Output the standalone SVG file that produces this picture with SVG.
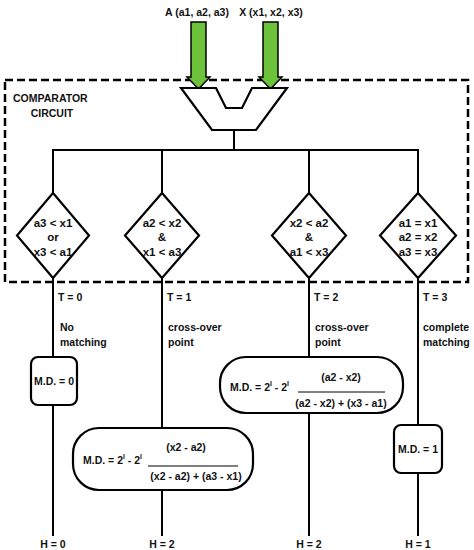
<svg xmlns="http://www.w3.org/2000/svg" width="474" height="550" viewBox="0 0 474 550">
<style>
text{font-family:"Liberation Sans",Arial,sans-serif;font-weight:bold;font-size:10.5px;fill:#111}
.c{text-anchor:middle}
.dt{font-size:11.5px}
.ln{stroke:#000;stroke-width:2;fill:none}
.bx{stroke:#000;stroke-width:2.2;fill:#fff}
.ar{fill:#6cc23a;stroke:#000;stroke-width:1.5}
.sup{font-size:7px}
</style>
<rect width="474" height="550" fill="#fff"/>
<g id="connectors">
<line class="ln" x1="234" y1="130" x2="234" y2="150"/>
<line class="ln" x1="52" y1="150" x2="419" y2="150"/>
<line class="ln" x1="53" y1="150" x2="53" y2="193"/>
<line class="ln" x1="162" y1="150" x2="162" y2="193"/>
<line class="ln" x1="309" y1="150" x2="309" y2="193"/>
<line class="ln" x1="418" y1="150" x2="418" y2="193"/>
<line class="ln" x1="53" y1="278" x2="53" y2="536"/>
<line class="ln" x1="162" y1="278" x2="162" y2="536"/>
<line class="ln" x1="309" y1="278" x2="309" y2="536"/>
<line class="ln" x1="418" y1="278" x2="418" y2="536"/>
</g>
<g id="region">
<rect x="5" y="80" width="463" height="202" fill="none" stroke="#000" stroke-width="2.5" stroke-dasharray="8,4"/>
<text x="13" y="102">COMPARATOR</text>
<text x="52" y="117" class="c">CIRCUIT</text>
</g>
<g id="inputs">
<text x="197" y="16" class="c">A (a1, a2, a3)</text>
<text x="271" y="16" class="c">X (x1, x2, x3)</text>
<polygon class="ar" points="191,22 206,22 206,77 210,77 198.5,89 187,77 191,77"/>
<polygon class="ar" points="263,22 278,22 278,77 282,77 270.5,89 259,77 263,77"/>
</g>
<g id="comparator">
<polygon class="bx" points="181,88 216,88 226,108 242,108 252,88 287,88 256,130 212,130"/>
</g>
<g id="d1">
<polygon class="bx" points="53,193 89,235.5 53,278 17,235.5"/>
<text x="53" y="227" class="c dt">a3 &lt; x1</text>
<text x="53" y="241" class="c dt">or</text>
<text x="53" y="256" class="c dt">x3 &lt; a1</text>
</g>
<g id="d2">
<polygon class="bx" points="162,193 199,235.5 162,278 125,235.5"/>
<text x="162" y="227" class="c dt">a2 &lt; x2</text>
<text x="162" y="241" class="c dt">&amp;</text>
<text x="162" y="256" class="c dt">x1 &lt; a3</text>
</g>
<g id="d3">
<polygon class="bx" points="309,193 346,235.5 309,278 272,235.5"/>
<text x="309" y="227" class="c dt">x2 &lt; a2</text>
<text x="309" y="241" class="c dt">&amp;</text>
<text x="309" y="256" class="c dt">a1 &lt; x3</text>
</g>
<g id="d4">
<polygon class="bx" points="418,193 456,235.5 418,278 380,235.5"/>
<text x="418" y="227" class="c dt">a1 = x1</text>
<text x="418" y="241" class="c dt">a2 = x2</text>
<text x="418" y="256" class="c dt">a3 = x3</text>
</g>
<g id="labels">
<text x="58" y="301">T = 0</text>
<text x="167" y="301">T = 1</text>
<text x="314" y="301">T = 2</text>
<text x="423" y="301">T = 3</text>
<text x="60" y="331">No</text>
<text x="60" y="346">matching</text>
<text x="168" y="331">cross-over</text>
<text x="168" y="346">point</text>
<text x="315" y="331">cross-over</text>
<text x="315" y="346">point</text>
<text x="423" y="331">complete</text>
<text x="423" y="346">matching</text>
</g>
<g id="md0">
<rect class="bx" x="31" y="357" width="46" height="48" rx="7"/>
<text x="54" y="385" class="c">M.D. = 0</text>
</g>
<g id="md2a">
<rect class="bx" x="220" y="357" width="183" height="56" rx="26"/>
<text x="230" y="391">M.D. = 2<tspan class="sup" dy="-5">l</tspan><tspan dy="5"> - 2</tspan><tspan class="sup" dy="-5">l</tspan></text>
<line x1="298" y1="392" x2="385" y2="392" stroke="#000" stroke-width="1.2"/>
<text x="341" y="381" class="c">(a2 - x2)</text>
<text x="341" y="407" class="c">(a2 - x2) + (x3 - a1)</text>
</g>
<g id="md2b">
<rect class="bx" x="73" y="428" width="180" height="62" rx="26"/>
<text x="83" y="464">M.D. = 2<tspan class="sup" dy="-5">l</tspan><tspan dy="5"> - 2</tspan><tspan class="sup" dy="-5">l</tspan></text>
<line x1="148" y1="466" x2="238" y2="466" stroke="#000" stroke-width="1.2"/>
<text x="186" y="451" class="c">(x2 - a2)</text>
<text x="196" y="480" class="c">(x2 - a2) + (a3 - x1)</text>
</g>
<g id="md1">
<rect class="bx" x="394" y="425" width="48" height="48" rx="7"/>
<text x="418" y="453" class="c">M.D. = 1</text>
</g>
<g id="outputs">
<text x="53" y="548" class="c">H = 0</text>
<text x="162" y="548" class="c">H = 2</text>
<text x="309" y="548" class="c">H = 2</text>
<text x="418" y="548" class="c">H = 1</text>
</g>
</svg>
